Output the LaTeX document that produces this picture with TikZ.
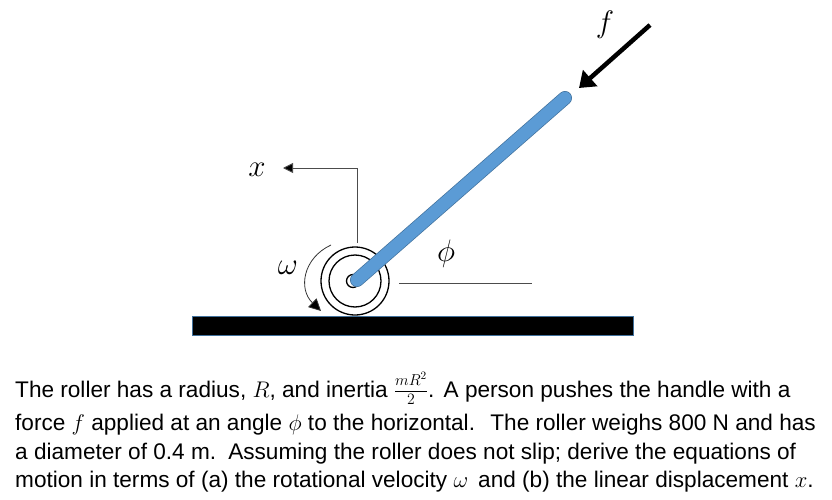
\RequirePackage{fix-cm}
\documentclass[tikz,border=0pt]{standalone}
\usepackage{fontspec}
\setmainfont{Liberation Sans}
\usetikzlibrary{arrows.meta}
\usetikzlibrary{calc}
\definecolor{handleblue}{HTML}{5B9BD5}
\definecolor{edgeblue}{HTML}{41719C}
\tikzset{
    thinline/.style={draw=black!70,line width=0.9pt},
    rollerline/.style={draw=black,line width=1.3pt},
    symbol/.style={inner sep=0pt,font=\fontsize{31}{31}\selectfont},
    textline/.style={anchor=base west,inner sep=0pt,font=\fontsize{22.6}{26}\selectfont}
}
\begin{document}
\begin{tikzpicture}[x=1pt,y=-1pt]
    \useasboundingbox (0,0) rectangle (832,500);

    \coordinate (hub) at (355,281);
    \coordinate (handlestart) at (357,280);
    \coordinate (handletip) at (565,98);
    \coordinate (xstart) at (357,243);
    \coordinate (xcorner) at (357,168);
    \coordinate (xtip) at (283,168);
    \coordinate (phistart) at (399,283);
    \coordinate (phiend) at (532,283);
    \coordinate (fstart) at (650,25);
    \coordinate (ftip) at (579,88);

    % ground
    \draw[edgeblue,line width=1pt,fill=black] (192,316.5) rectangle (633,335);

    % roller
    \draw[rollerline] (hub) circle (34);
    \draw[rollerline] (hub) circle (26);
    \draw[rollerline] (353,281) circle (6.5);

    % handle
    \draw[edgeblue,line width=14pt,line cap=round] (handlestart) -- (handletip);
    \draw[handleblue,line width=12.6pt,line cap=round] (handlestart) -- (handletip);

    % motion
    \draw[thinline,-{Triangle[length=10pt,width=10pt,fill=black]}] (xstart) -- (xcorner) -- (xtip);
    \draw[thinline] (phistart) -- (phiend);
    \draw[black,line width=4.5pt,-{Triangle[length=15pt,width=21pt]}] (fstart) -- (ftip);
    \draw[black!80,line width=0.8pt,-{Triangle[length=12pt,width=12pt,fill=black]}]
        (331,245) .. controls (303,258) and (298,289) .. (321,311);

    % symbols
    \node[symbol] (xlabel) at (257,170) {$x$};
    \node[symbol] (philabel) at (446,254) {$\phi$};
    \node[symbol] (omegalabel) at (288,268) {$\omega$};
    \node[symbol] (flabel) at (605,25) {$f$};

    % text
    \node[textline] (lineone) at (15,397) {The roller has a radius, $R$, and inertia $\smash{\frac{\raisebox{3pt}{$\scriptstyle mR^2$}}{2}}$.\kern1pt{} A person pushes the handle with a};
    \node[textline] (linetwo) at (15,430) {force $f$ applied at an angle $\phi$ to the horizontal.\kern7pt{} The roller weighs 800 N and has};
    \node[textline] (linethree) at (15,459) {a diameter of 0.4 m.\, Assuming the roller does not slip; derive the equations of};
    \node[textline] (linefour) at (15,487) {motion in terms of (a) the rotational velocity $\omega$\, and (b) the linear displacement $x$.};
\end{tikzpicture}
\end{document}
